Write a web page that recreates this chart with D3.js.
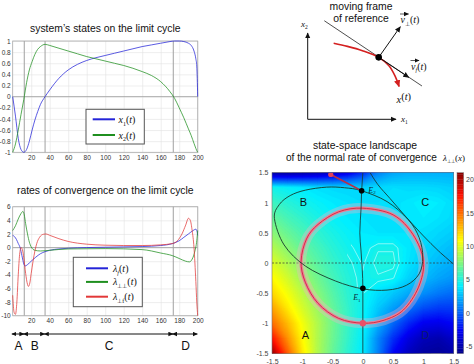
<!DOCTYPE html>
<html><head><meta charset="utf-8">
<script src="https://cdn.jsdelivr.net/npm/d3@7"></script>
<style>body{margin:0;background:#fff}svg{display:block}</style>
</head><body><script>
// ---------------- DATA ----------------
// top-left: states on the limit cycle
const tStates = [0,3,6,9,12,15,18,21,24,27,30,35,40,50,60,70,80,90,100,110,120,130,140,150,160,170,175,180,185,190,193,196,198,199,200];
const x1 = [0,-0.35,-0.75,-0.95,-1.0,-0.95,-0.8,-0.6,-0.42,-0.27,-0.14,0,0.12,0.33,0.48,0.58,0.65,0.7,0.74,0.78,0.82,0.86,0.9,0.93,0.96,0.99,1.0,1.0,0.99,0.96,0.92,0.82,0.68,0.55,0.0];
const x2 = [-1.0,-0.85,-0.6,-0.32,-0.05,0.25,0.48,0.63,0.76,0.85,0.9,0.94,0.92,0.87,0.82,0.77,0.72,0.68,0.64,0.6,0.56,0.51,0.45,0.38,0.27,0.09,-0.03,-0.2,-0.38,-0.58,-0.7,-0.84,-0.93,-0.97,-1.0];
// bottom-left: rates of convergence
const tLamF = [0,2,4,6,8,10,12,13.5,16,20,25,30,35,40,50,60,80,100,120,140,160,173,180,185,190,195,198,199,200];
const lamF  = [1.8,1.6,1.2,0.6,0,-1.2,-2.4,-2.7,-2.5,-2.0,-1.4,-0.9,-0.6,-0.4,-0.2,-0.1,0,0.05,0.1,0.15,0.3,0.6,1.0,1.5,2.0,2.5,2.7,2.5,1.8];
const tLamPP = [0,3,6,9,11,12.5,14,16,18,20,24,30,40,60,100,140,160,173,180,187,191,194,197,199,200];
const lamPP  = [2.5,3.2,4.2,5.0,5.3,4.8,3.5,2.0,0.8,0.1,-0.4,-0.5,-0.4,-0.2,-0.15,-0.3,-0.8,-1.2,-1.6,-2.0,-2.1,-1.7,-0.5,1.0,2.5];
const tLamPF = [0,1.5,3,4.5,6,7.5,9,10.5,12,14,16,17,18.5,20,22,24,26,29,33,36,40,50,60,80,100,120,140,160,173,178,183,187,190,192,194,196,198,199,200];
const lamPF  = [-7,-9.5,-9.8,-8,-4,-1,0,-0.3,-1.5,-3.8,-5.4,-5.7,-5.2,-3.8,-2,-0.5,0.6,1.5,1.95,2.0,1.8,1.3,0.9,0.5,0.35,0.3,0.3,0.4,0.6,1.0,2.0,3.3,4.3,4.0,2.5,0,-5,-8,-10];
const phaseBounds = [0,12.5,35,173.6,200];
const phaseLabels = ["A","B","C","D"];
const xTicks = [20,40,60,80,100,120,140,160,180,200];
const yTicksStates = [1,0.8,0.6,0.4,0.2,0,-0.2,-0.4,-0.6,-0.8,-1];
const yTicksRates = [6,4,2,0,-2,-4,-6,-8,-10];
// right: heat map of lambda_perp_perp(x)
const heatX = [-1.5,-1.25,-1,-0.75,-0.5,-0.25,0,0.25,0.5,0.75,1,1.25,1.5];
const heatY = [1.5,1.25,1,0.75,0.5,0.25,0,-0.25,-0.5,-0.75,-1,-1.25,-1.5];
const heatGrid = [
 [-5.5,-5.5,-5.2,-4.8,-4.2,-3.2,-1.5,1.0,2.0,2.3,2.3,2.3,2.3],
 [4.6,4.3,4.0,3.7,3.5,3.4,3.3,3.5,3.6,3.5,3.5,3.4,3.2],
 [5.8,5.2,4.7,4.3,4.0,3.8,3.6,3.6,3.7,3.9,4.2,4.0,3.6],
 [6.8,6.0,5.4,4.8,4.3,4.0,3.8,3.7,3.7,3.9,4.0,3.8,3.5],
 [7.8,6.9,6.1,5.4,4.8,4.3,4.0,3.8,3.8,3.8,3.7,3.4,3.1],
 [8.9,7.8,6.8,6.0,5.2,4.6,4.2,4.7,4.7,3.9,3.4,3.0,2.6],
 [10.0,8.8,7.6,6.5,5.6,4.9,4.4,4.9,4.9,3.8,3.1,2.6,2.2],
 [11.0,9.7,8.3,7.1,6.0,5.1,4.5,4.7,4.5,3.3,2.6,2.0,1.6],
 [12.0,10.6,9.1,7.7,6.4,5.3,4.5,3.6,3.0,2.2,1.4,0.8,0.4],
 [13.5,11.5,9.8,8.3,6.8,5.5,4.4,3.0,1.8,0.5,-0.5,-1.0,-1.0],
 [15.0,12.8,10.6,8.8,7.1,5.6,4.3,2.3,0.3,-1.5,-2.8,-3.0,-2.5],
 [17.5,14.0,11.0,8.8,7.0,5.5,4.1,1.2,-1.3,-3.3,-4.5,-4.8,-4.0],
 [20.5,15.5,11.5,8.8,6.8,5.3,4.0,1.0,-2.5,-4.3,-5.3,-5.5,-5.0]
];
const heatTicks = [-1.5,-1,-0.5,0,0.5,1,1.5];
const cbTicks = [20,15,10,5,0,-5];
const cbDomain = [-6,21];
const isoLevels = [4.45,4.75];
const limitCycle = [[0,0.91],[0.5,0.8],[0.83,0.47],[1.0,0.03],[0.92,-0.4],[0.67,-0.78],[0.35,-0.95],[0,-1.0],[-0.4,-0.92],[-0.74,-0.67],[-0.95,-0.32],[-1.02,0.03],[-0.93,0.4],[-0.74,0.64],[-0.4,0.85]];
const nullEllipse = [[-1.46,0.74],[-1.38,0.97],[-1.2,1.12],[-0.95,1.21],[-0.6,1.26],[-0.3,1.25],[-0.02,1.2],[0.4,1.02],[0.75,0.72],[0.93,0.42],[0.99,0.1],[0.93,-0.18],[0.72,-0.37],[0.4,-0.45],[0.0,-0.43],[-0.45,-0.3],[-0.95,-0.05],[-1.3,0.3]];
const nullVertical = [[0.0,1.5],[-0.02,1.2],[-0.03,0.9],[-0.05,0.5],[-0.03,0.2],[-0.01,-0.1],[0,-0.42],[0,-1.5]];
const nullDiagonal = [[0.12,1.5],[0.25,1.3],[0.45,1.07],[0.7,0.78],[1.0,0.45],[1.25,0.2],[1.5,-0.02]];
const manifold = [[-0.53,1.47],[-0.02,1.2]];
const eqE1 = [0,-0.42], eqE2 = [-0.02,1.2], startPt = [0,-1.0];
const regionLabels = [["A",-0.95,-1.2],["B",-0.98,1.02],["C",1.03,1.02],["D",1.03,-1.2]];
// schematic (unitless frame coordinates)
const schemTraj = [[0.294,0.881],[0.45,0.845],[0.62,0.795],[0.804,0.718],[0.92,0.62],[0.99,0.5],[1.035,0.38]];
const schemTangent = [[0.188,1.142],[1.294,0.386]];
const schemPoint = [0.804,0.718];
const schemVperp = [1.049,1.073];
const schemVf = [1.144,0.486];

// ---------------- DRAW ----------------
const SANS = "Liberation Sans, Arial, sans-serif";
const SERIF = "Liberation Serif, Times New Roman, serif";
const svg = d3.select("body").append("svg").attr("width",474).attr("height",364);
const defs = svg.append("defs");
function marker(id,color,size){
  defs.append("marker").attr("id",id).attr("viewBox","0 0 10 10").attr("refX",9).attr("refY",5)
    .attr("markerWidth",size).attr("markerHeight",size).attr("markerUnits","userSpaceOnUse")
    .attr("orient","auto-start-reverse").append("path").attr("d","M0,0.5L10,5L0,9.5z").attr("fill",color);
}
marker("ak","#111",6); marker("ar","#d42020",7); marker("as","#111",5);

const xT = d3.scaleLinear([0,200],[12.7,197.7]);
const yS = d3.scaleLinear([-1,1],[152.3,41]);
const yR = d3.scaleLinear([-10,6],[315.7,206.7]);
const fmt = d => String(+(+d).toFixed(1));

function panel(yScale, yTicks){
  const g = svg.append("g");
  const [yb, yt] = yScale.range();
  const [xl, xr] = xT.range();
  const styleAx = s => {
    s.select(".domain").remove();
    s.selectAll("line").attr("stroke","#e3e3e3").attr("stroke-width",0.6);
    s.selectAll("text").attr("font-size",6.5).attr("fill","#333").attr("font-family",SANS);
  };
  g.append("g").attr("transform",`translate(${xl},0)`)
    .call(d3.axisLeft(yScale).tickValues(yTicks).tickSize(-(xr-xl)).tickPadding(2).tickFormat(fmt)).call(styleAx);
  g.append("g").attr("transform",`translate(0,${yb})`)
    .call(d3.axisBottom(xT).tickValues(xTicks).tickSize(-(yb-yt)).tickPadding(3).tickFormat(fmt)).call(styleAx);
  g.append("line").attr("x1",xl).attr("x2",xr).attr("y1",yScale(0)).attr("y2",yScale(0)).attr("stroke","#9a9a9a").attr("stroke-width",0.8);
  g.selectAll(".ph").data(phaseBounds.slice(1,4)).join("line")
    .attr("x1",d=>xT(d)).attr("x2",d=>xT(d)).attr("y1",yt).attr("y2",yb).attr("stroke","#a0a0a0").attr("stroke-width",1);
  g.append("rect").attr("x",xl).attr("y",yt).attr("width",xr-xl).attr("height",yb-yt).attr("fill","none").attr("stroke","#a8a8a8").attr("stroke-width",0.8);
  return g;
}
function curve(g, yScale, ts, vs, color){
  g.append("path").datum(ts.map((t,i)=>[t,vs[i]]))
    .attr("d", d3.line().x(d=>xT(d[0])).y(d=>yScale(d[1])).curve(d3.curveMonotoneX))
    .attr("fill","none").attr("stroke",color).attr("stroke-width",1).attr("stroke-opacity",0.75);
}
function mathText(g,x,y,base,sub,arg,size){
  const t = g.append("text").attr("x",x).attr("y",y).attr("font-family",SERIF).attr("font-size",size).attr("fill","#111");
  t.append("tspan").attr("font-style","italic").text(base);
  t.append("tspan").attr("font-size",size*0.6).attr("dy",size*0.28).attr("font-style", sub==="f"?"italic":"normal").text(sub);
  t.append("tspan").attr("dy",-size*0.28).text("(");
  t.append("tspan").attr("font-style","italic").text(arg);
  t.append("tspan").text(")");
  return t;
}
const BLUE="#2424d8", GREEN="#1f8f1f", RED="#e23838";

// titles
svg.append("text").attr("x",105.3).attr("y",31.8).attr("text-anchor","middle").attr("font-family",SANS).attr("font-size",10.4).attr("fill","#111").text("system\u2019s states on the limit cycle");
svg.append("text").attr("x",105.3).attr("y",193.6).attr("text-anchor","middle").attr("font-family",SANS).attr("font-size",10.4).attr("fill","#111").text("rates of convergence on the limit cycle");

// top panel
const gS = panel(yS, yTicksStates);
curve(gS, yS, tStates, x1, BLUE);
curve(gS, yS, tStates, x2, GREEN);
const lg1 = svg.append("g");
lg1.append("rect").attr("x",86).attr("y",109.3).attr("width",58.3).attr("height",34.7).attr("fill","#fff").attr("stroke","#555").attr("stroke-width",1);
[[BLUE,"1",119.3],[GREEN,"2",135]].forEach(([c,s,y])=>{
  lg1.append("line").attr("x1",92.7).attr("x2",115).attr("y1",y).attr("y2",y).attr("stroke",c).attr("stroke-width",2);
  mathText(lg1,118.5,y+3.5,"x",s,"t",10);
});

// bottom panel
const gR = panel(yR, yTicksRates);
curve(gR, yR, tLamF, lamF, BLUE);
curve(gR, yR, tLamPP, lamPP, GREEN);
curve(gR, yR, tLamPF, lamPF, RED);
const lg2 = svg.append("g");
lg2.append("rect").attr("x",73.3).attr("y",257.3).attr("width",69).attr("height",49.4).attr("fill","#fff").attr("stroke","#555").attr("stroke-width",1);
[[BLUE,"f",268.3],[GREEN,"\u22a5\u22a5",281.9],[RED,"\u22a5f",296.7]].forEach(([c,s,y])=>{
  lg2.append("line").attr("x1",86).attr("x2",108).attr("y1",y).attr("y2",y).attr("stroke",c).attr("stroke-width",2);
  mathText(lg2,113,y+3.5,"\u03bb",s,"t",10);
});

// phase arrows
const gA = svg.append("g");
phaseLabels.forEach((lab,i)=>{
  const a = phaseBounds[i], b = phaseBounds[i+1];
  gA.append("line").attr("x1",xT(a)-0.8).attr("x2",xT(b)-0.4).attr("y1",334).attr("y2",334)
    .attr("stroke","#111").attr("stroke-width",1).attr("marker-start","url(#as)").attr("marker-end","url(#as)");
  gA.append("text").attr("x",xT((a+b)/2)).attr("y",349.5).attr("text-anchor","middle").attr("font-family",SANS).attr("font-size",12).attr("fill","#111").text(lab);
});

// ---------- schematic ----------
const sx = d3.scaleLinear([0,1],[307.7,396]);
const sy = d3.scaleLinear([0,1],[119.3,33]);
const gM = svg.append("g");
gM.append("line").attr("x1",sx(0)).attr("y1",sy(0)).attr("x2",sx(0)).attr("y2",sy(1)).attr("stroke","#111").attr("stroke-width",1).attr("marker-end","url(#ak)");
gM.append("line").attr("x1",sx(0)).attr("y1",sy(0)).attr("x2",sx(1)).attr("y2",sy(0)).attr("stroke","#111").attr("stroke-width",1).attr("marker-end","url(#ak)");
gM.append("line").attr("x1",sx(schemTangent[0][0])).attr("y1",sy(schemTangent[0][1])).attr("x2",sx(schemTangent[1][0])).attr("y2",sy(schemTangent[1][1])).attr("stroke","#222").attr("stroke-width",0.8);
gM.append("path").datum(schemTraj).attr("d",d3.line().x(d=>sx(d[0])).y(d=>sy(d[1])).curve(d3.curveCatmullRom))
  .attr("fill","none").attr("stroke","#d42020").attr("stroke-width",1.6).attr("marker-end","url(#ar)");
gM.append("line").attr("x1",sx(schemPoint[0])).attr("y1",sy(schemPoint[1])).attr("x2",sx(schemVperp[0])).attr("y2",sy(schemVperp[1])).attr("stroke","#111").attr("stroke-width",1).attr("marker-end","url(#ak)");
gM.append("line").attr("x1",sx(schemPoint[0])).attr("y1",sy(schemPoint[1])).attr("x2",sx(schemVf[0])).attr("y2",sy(schemVf[1])).attr("stroke","#111").attr("stroke-width",1).attr("marker-end","url(#ak)");
gM.append("circle").attr("cx",sx(schemPoint[0])).attr("cy",sy(schemPoint[1])).attr("r",3.3).attr("fill","#000");
gM.append("text").attr("x",361).attr("y",10).attr("text-anchor","middle").attr("font-family",SANS).attr("font-size",10.4).attr("fill","#111").text("moving frame");
gM.append("text").attr("x",361).attr("y",21.5).attr("text-anchor","middle").attr("font-family",SANS).attr("font-size",10.4).attr("fill","#111").text("of reference");
const ax2 = gM.append("text").attr("x",301).attr("y",27).attr("font-family",SERIF).attr("font-size",9).attr("fill","#111");
ax2.append("tspan").attr("font-style","italic").text("x"); ax2.append("tspan").attr("font-size",5.5).attr("dy",2).text("2");
const ax1 = gM.append("text").attr("x",401).attr("y",122).attr("font-family",SERIF).attr("font-size",9).attr("fill","#111");
ax1.append("tspan").attr("font-style","italic").text("x"); ax1.append("tspan").attr("font-size",5.5).attr("dy",2).text("1");
mathText(gM,396.5,103,"x","","t",10.5);
function vecLabel(x,y,sub){
  mathText(gM,x,y,"v",sub,"t",10);
  gM.append("line").attr("x1",x-0.5).attr("x2",x+8).attr("y1",y-9).attr("y2",y-9).attr("stroke","#111").attr("stroke-width",0.7).attr("marker-end","url(#as)");
}
vecLabel(400.5,23,"\u22a5");
vecLabel(411,69.5,"f");

// ---------- heat map ----------
const hx = d3.scaleLinear([-1.5,1.5],[272,453.7]);
const hy = d3.scaleLinear([-1.5,1.5],[353.3,172.7]);
const jet = d3.scaleLinear().domain([-6,-2.625,4.125,10.875,17.625,21])
  .range(["#00008a","#0000f5","#00f0ff","#ffff00","#ff1000","#860000"]).clamp(true);
svg.append("text").attr("x",365).attr("y",149.3).attr("text-anchor","middle").attr("font-family",SANS).attr("font-size",10.4).attr("fill","#111").text("state-space landscape");
svg.append("text").attr("x",286).attr("y",160.6).attr("font-family",SANS).attr("font-size",10.1).attr("fill","#111").text("of the normal rate of convergence");
(function(){
  const t = svg.append("text").attr("x",443).attr("y",160.6).attr("font-family",SERIF).attr("font-size",9).attr("fill","#111");
  t.append("tspan").attr("font-style","italic").text("\u03bb");
  t.append("tspan").attr("font-size",5).attr("dy",2).text("\u22a5\u22a5");
  t.append("tspan").attr("dy",-2).text("(");
  t.append("tspan").attr("font-style","italic").text("x");
  t.append("tspan").text(")");
})();
defs.append("clipPath").attr("id","hclip").append("rect").attr("x",hx(-1.5)).attr("y",hy(1.5)).attr("width",hx(1.5)-hx(-1.5)).attr("height",hy(-1.5)-hy(1.5));
defs.append("clipPath").attr("id","isoclip").append("circle").attr("cx",hx(0.35)).attr("cy",hy(0.02)).attr("r",hx(0.62)-hx(0));
const nx = heatX.length, ny = heatY.length;
const stepX = heatX[1]-heatX[0], stepY = heatY[0]-heatY[1];
const proj = d3.geoTransform({point(u,v){ this.stream.point(hx(heatX[0]+(u-0.5)*stepX), hy(heatY[0]-(v-0.5)*stepY)); }});
const gpath = d3.geoPath(proj);
const vals = heatGrid.flat();
const levels = d3.range(cbDomain[0], cbDomain[1], 0.2);
const gH = svg.append("g").attr("clip-path","url(#hclip)");
gH.selectAll("path.band").data(d3.contours().size([nx,ny]).smooth(true).thresholds(levels)(vals)).join("path")
  .attr("class","band").attr("d",gpath).attr("fill",d=>jet(d.value+0.1)).attr("stroke",d=>jet(d.value+0.1)).attr("stroke-width",0.3);
gH.append("g").attr("clip-path","url(#isoclip)").selectAll("path.iso").data(d3.contours().size([nx,ny]).thresholds(isoLevels)(vals)).join("path")
  .attr("class","iso").attr("d",gpath).attr("fill","none").attr("stroke","#fff").attr("stroke-opacity",0.7).attr("stroke-width",0.7);
const hline = d3.line().x(d=>hx(d[0])).y(d=>hy(d[1]));
gH.append("line").attr("x1",hx(-1.5)).attr("x2",hx(1.5)).attr("y1",hy(0)).attr("y2",hy(0)).attr("stroke","#333").attr("stroke-width",0.7).attr("stroke-dasharray","2,1.5");
gH.append("path").datum(limitCycle).attr("d",hline.curve(d3.curveCardinalClosed)).attr("fill","none").attr("stroke","#f7b3c6").attr("stroke-width",10).attr("stroke-opacity",0.35);
gH.append("path").datum(limitCycle).attr("d",hline.curve(d3.curveCardinalClosed)).attr("fill","none").attr("stroke","#ee7d95").attr("stroke-width",3.2);
gH.append("path").datum(limitCycle).attr("d",hline.curve(d3.curveCardinalClosed)).attr("fill","none").attr("stroke","#c82a40").attr("stroke-width",0.9);
gH.append("path").datum(nullEllipse).attr("d",hline.curve(d3.curveCardinalClosed)).attr("fill","none").attr("stroke","#163a2c").attr("stroke-width",0.9);
gH.append("path").datum(nullVertical).attr("d",hline.curve(d3.curveMonotoneY)).attr("fill","none").attr("stroke","#18403f").attr("stroke-width",0.9);
gH.append("path").datum(nullDiagonal).attr("d",hline.curve(d3.curveCatmullRom)).attr("fill","none").attr("stroke","#163a34").attr("stroke-width",0.9);
gH.append("path").datum(manifold).attr("d",hline.curve(d3.curveLinear)).attr("fill","none").attr("stroke","#b83048").attr("stroke-width",1.6);
gH.append("circle").attr("cx",hx(manifold[0][0])).attr("cy",hy(manifold[0][1])).attr("r",2.6).attr("fill","#e0405a");
gH.append("circle").attr("cx",hx(startPt[0])).attr("cy",hy(startPt[1])).attr("r",3.2).attr("fill","#e8506a");
[eqE1,eqE2].forEach(p=>gH.append("circle").attr("cx",hx(p[0])).attr("cy",hy(p[1])).attr("r",2.8).attr("fill","#000"));
function eqLabel(x,y,s){
  const t = gH.append("text").attr("x",hx(x)).attr("y",hy(y)).attr("font-family",SERIF).attr("font-size",8).attr("fill","#0a2a3a");
  t.append("tspan").attr("font-style","italic").text("E"); t.append("tspan").attr("font-size",5).attr("dy",1.8).text(s);
}
eqLabel(0.09,1.17,"2"); eqLabel(-0.16,-0.62,"1");
regionLabels.forEach(([l,x,y])=>gH.append("text").attr("x",hx(x)).attr("y",hy(y)).attr("text-anchor","middle").attr("dy","0.36em")
  .attr("font-family",SANS).attr("font-size",11).attr("fill", l==="D" ? "#0b1a70" : "#111").text(l));
svg.append("rect").attr("x",hx(-1.5)).attr("y",hy(1.5)).attr("width",hx(1.5)-hx(-1.5)).attr("height",hy(-1.5)-hy(1.5)).attr("fill","none").attr("stroke","#777").attr("stroke-width",0.6);
const hAxStyle = s => { s.select(".domain").remove(); s.selectAll("line").remove(); s.selectAll("text").attr("font-size",7).attr("fill","#444").attr("font-family",SANS); };
svg.append("g").attr("transform",`translate(${hx(-1.5)},0)`).call(d3.axisLeft(hy).tickValues(heatTicks).tickSize(0).tickPadding(3.5).tickFormat(fmt)).call(hAxStyle);
svg.append("g").attr("transform",`translate(0,${hy(-1.5)})`).call(d3.axisBottom(hx).tickValues(heatTicks).tickSize(0).tickPadding(5.5).tickFormat(fmt)).call(hAxStyle);

// colorbar
const cy = d3.scaleLinear(cbDomain,[353.3,172.7]);
const gC = svg.append("g");
const cbStep = 0.25;
gC.selectAll("rect.cb").data(d3.range(cbDomain[0],cbDomain[1],cbStep)).join("rect").attr("class","cb")
  .attr("x",457).attr("width",6.6).attr("y",d=>cy(d+cbStep)).attr("height",d=>cy(d)-cy(d+cbStep)+0.3).attr("fill",d=>jet(d+cbStep/2));
gC.append("rect").attr("x",457).attr("y",172.7).attr("width",6.6).attr("height",180.6).attr("fill","none").attr("stroke","#777").attr("stroke-width",0.5);
svg.append("g").attr("transform","translate(463.6,0)").call(d3.axisRight(cy).tickValues(cbTicks).tickSize(0).tickPadding(2.5).tickFormat(fmt)).call(hAxStyle);
</script></body></html>
